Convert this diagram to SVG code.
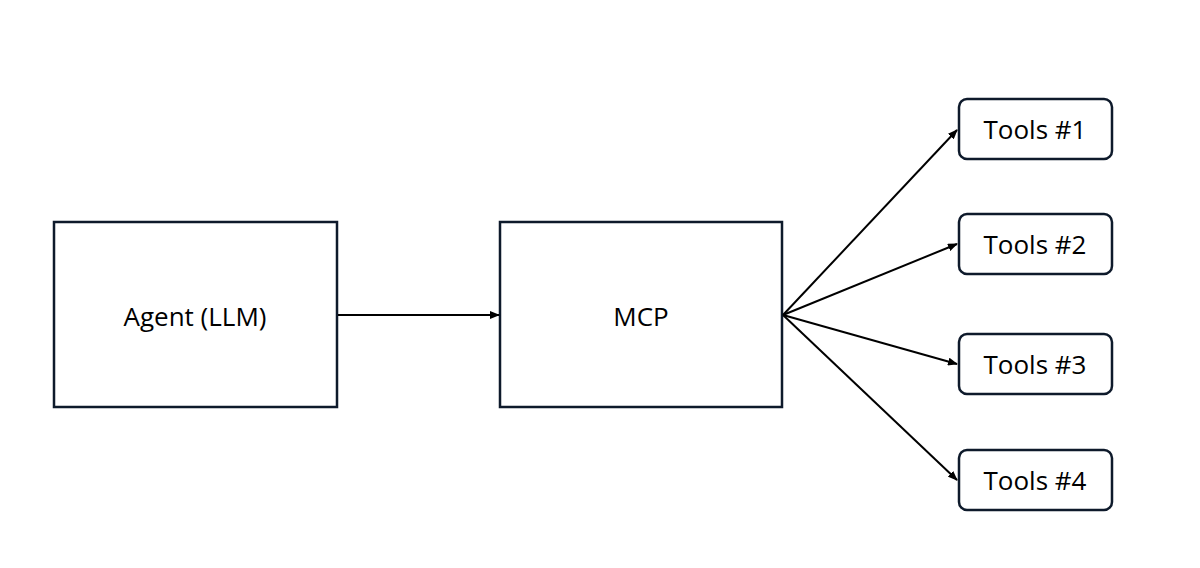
<svg xmlns="http://www.w3.org/2000/svg" width="1200" height="568" viewBox="0 0 1200 568">
<style>
.box{fill:#fff;stroke:#0e1a2b;stroke-width:2.5}
.t{font-family:"Open Sans","Liberation Sans",sans-serif;font-size:26px;fill:#000;text-anchor:middle;dominant-baseline:central}
.c{stroke:#000;stroke-width:2;fill:none;marker-end:url(#a)}
</style>
<defs><marker id="a" markerWidth="10" markerHeight="8" refX="9" refY="4" orient="auto" markerUnits="userSpaceOnUse"><path d="M0,0 L10,4 L0,8 Z" fill="#000"/></marker></defs>
<rect width="1200" height="568" fill="#fff"/>
<g id="agent"><rect class="box" x="54" y="222" width="283" height="185"/><text class="t" x="195" y="316">Agent (LLM)</text></g>
<g id="mcp"><rect class="box" x="500" y="222" width="282" height="185"/><text class="t" x="641" y="316">MCP</text></g>
<g id="tools1"><rect class="box" x="959" y="99" width="153" height="60" rx="8"/><text class="t" x="1035" y="129">Tools #1</text></g>
<g id="tools2"><rect class="box" x="959" y="214" width="153" height="60" rx="8"/><text class="t" x="1035" y="244">Tools #2</text></g>
<g id="tools3"><rect class="box" x="959" y="334" width="153" height="60" rx="8"/><text class="t" x="1035" y="364">Tools #3</text></g>
<g id="tools4"><rect class="box" x="959" y="450" width="153" height="60" rx="8"/><text class="t" x="1035" y="480">Tools #4</text></g>
<g id="connectors">
<line class="c" x1="338" y1="315" x2="499" y2="315"/>
<line class="c" x1="783" y1="315" x2="957" y2="130"/>
<line class="c" x1="783" y1="315" x2="957" y2="244"/>
<line class="c" x1="783" y1="315" x2="957" y2="364"/>
<line class="c" x1="783" y1="315" x2="957" y2="480"/>
</g>
</svg>
